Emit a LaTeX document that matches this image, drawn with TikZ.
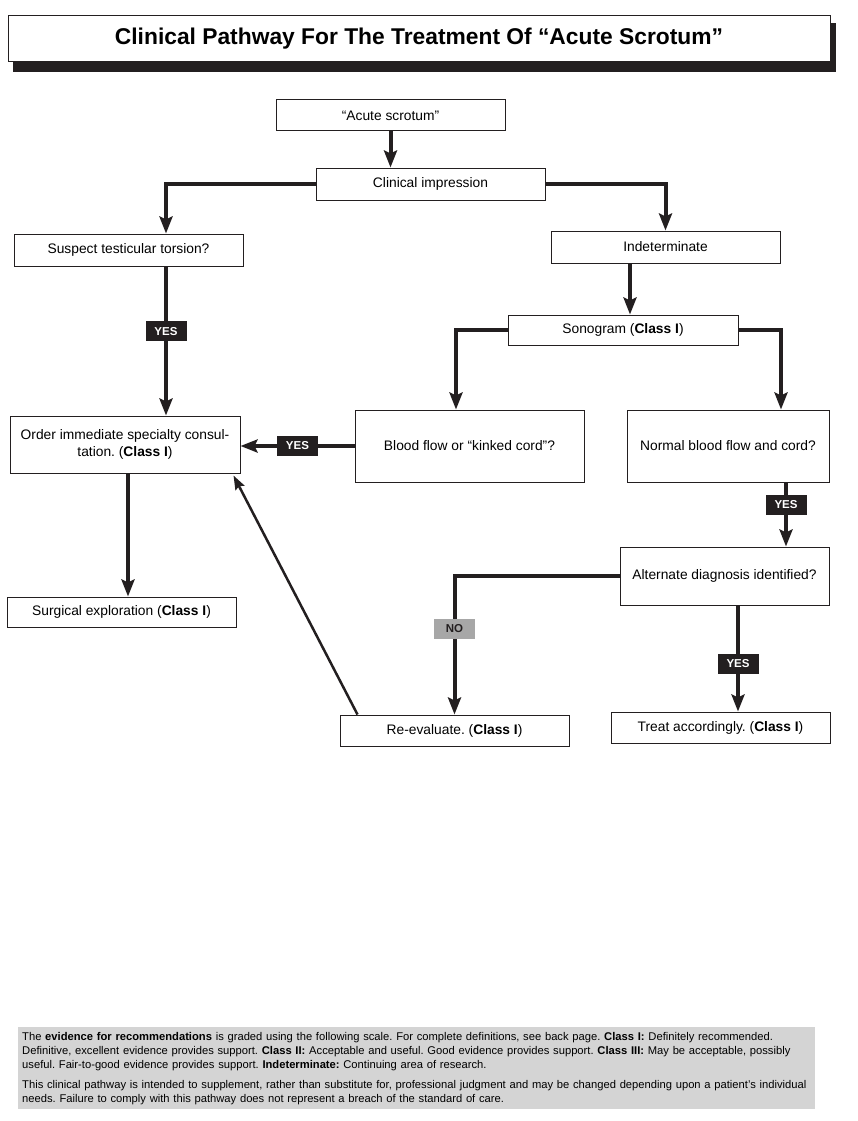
\documentclass[tikz,border=0pt]{standalone}
\usepackage{fontspec}
\setmainfont{Liberation Sans}
\usetikzlibrary{arrows.meta, positioning}

\definecolor{ink}{HTML}{231F20}
\definecolor{footgray}{HTML}{D4D4D4}
\definecolor{nogray}{HTML}{A7A7A7}
\frenchspacing

\begin{document}
\begin{tikzpicture}[x=1pt, y=-1pt,
		flow/.style={-{Stealth[width=13pt, length=17pt, inset=3pt]}, line width=4pt, draw=ink},
		back/.style={-{Stealth[width=10pt, length=14pt, inset=2pt]}, line width=2.5pt, draw=ink},
		box/.style={draw=ink, line width=1pt, align=center, inner sep=2pt, font=\fontsize{13.8}{17}\selectfont},
		yes/.style={fill=ink, text=white, font=\bfseries\fontsize{11.5}{12}\selectfont, minimum width=41pt, minimum height=20pt, inner sep=0pt},
		no/.style={yes, fill=nogray, text=ink}]
		\useasboundingbox (0,0) rectangle (858,1121);

		% title
		\fill[ink] (13,23) rectangle (836,72);
		\node[draw=ink, line width=1pt, fill=white, minimum width=822pt, minimum height=46pt,
			font=\bfseries\fontsize{22.8}{26}\selectfont] (title) at (419,39)
			{Clinical Pathway For The Treatment Of “Acute Scrotum”};

		% boxes
		\node[box, minimum width=229pt, minimum height=31pt] (acute) at (390.5,115.5) {“Acute scrotum”};
		\node[box, minimum width=229pt, minimum height=32pt] (clin) at (430.5,184) {Clinical impression};
		\node[box, minimum width=229pt, minimum height=32pt] (susp) at (128.5,250) {Suspect testicular torsion?};
		\node[box, minimum width=229pt, minimum height=32pt] (indet) at (665.5,247) {Indeterminate};
		\node[box, minimum width=230pt, minimum height=30pt] (sono) at (623,330) {Sonogram (\textbf{Class I})};
		\node[box, minimum width=230pt, minimum height=57pt] (order) at (125,444.5) {Order immediate specialty consul-\\tation. (\textbf{Class I})};
		\node[box, minimum width=229pt, minimum height=72pt] (blood) at (469.5,446) {Blood flow or “kinked cord”?};
		\node[box, minimum width=202pt, minimum height=72pt] (normal) at (728,446) {Normal blood flow and cord?};
		\node[box, minimum width=209pt, minimum height=58pt] (alt) at (724.5,576) {Alternate diagnosis identified?};
		\node[box, minimum width=229pt, minimum height=30pt] (surg) at (121.5,612) {Surgical exploration (\textbf{Class I})};
		\node[box, minimum width=229pt, minimum height=31pt] (reeval) at (454.5,730.5) {Re-evaluate. (\textbf{Class I})};
		\node[box, minimum width=219pt, minimum height=31pt] (treat) at (720.5,727.5) {Treat accordingly. (\textbf{Class I})};

		% connectors
		\draw[flow] (acute.south) -- (acute.south |- clin.north);
		\draw[flow] (clin.west) -| ([xshift=37.5pt]susp.north);
		\draw[flow] (clin.east) -| (indet.north);
		\draw[flow] ([xshift=-35.5pt]indet.south) -- ([xshift=-35.5pt]indet.south |- sono.north);
		\draw[flow] (sono.west) -| ([xshift=-13.5pt]blood.north);
		\draw[flow] (sono.east) -| ([xshift=53pt]normal.north);
		\draw[flow] ([xshift=41pt]order.north |- susp.south) -- node[yes, pos=0.436] {YES} ([xshift=41pt]order.north);
		\draw[flow] (blood.west) -- node[yes] {YES} (blood.west -| order.east);
		\draw[flow] ([xshift=58pt]normal.south) -- node[yes, pos=0.35] {YES} ([xshift=58pt]normal.south |- alt.north);
		\draw[flow] (alt.west) -| node[no, pos=0.69] {NO} (reeval.north);
		\draw[flow] ([xshift=13.5pt]alt.south) -- node[yes, pos=0.55] {YES} ([xshift=13.5pt]alt.south |- treat.north);
		\draw[flow] ([xshift=3pt]order.south) -- ([xshift=3pt]order.south |- surg.north);
		\draw[back] ([xshift=18pt]reeval.north west) -- ([xshift=-7pt, yshift=-2pt]order.south east);

		% footer
		\node[fill=footgray, anchor=north west, minimum width=797pt, minimum height=82pt, text width=789pt,
			inner sep=4pt, align=left, font=\fontsize{11.2}{14}\selectfont] (foot) at (18,1027)
			{The \textbf{evidence for recommendations} is graded using the following scale. For complete definitions, see back page. \textbf{Class I:} Definitely recommended.\\
			Definitive, excellent evidence provides support. \textbf{Class II:} Acceptable and useful. Good evidence provides support. \textbf{Class III:} May be acceptable, possibly\\
			useful. Fair-to-good evidence provides support. \textbf{Indeterminate:} Continuing area of research.\\[6pt]
			This clinical pathway is intended to supplement, rather than substitute for, professional judgment and may be changed depending upon a patient’s individual\\
			needs. Failure to comply with this pathway does not represent a breach of the standard of care.};
	\end{tikzpicture}
\end{document}
